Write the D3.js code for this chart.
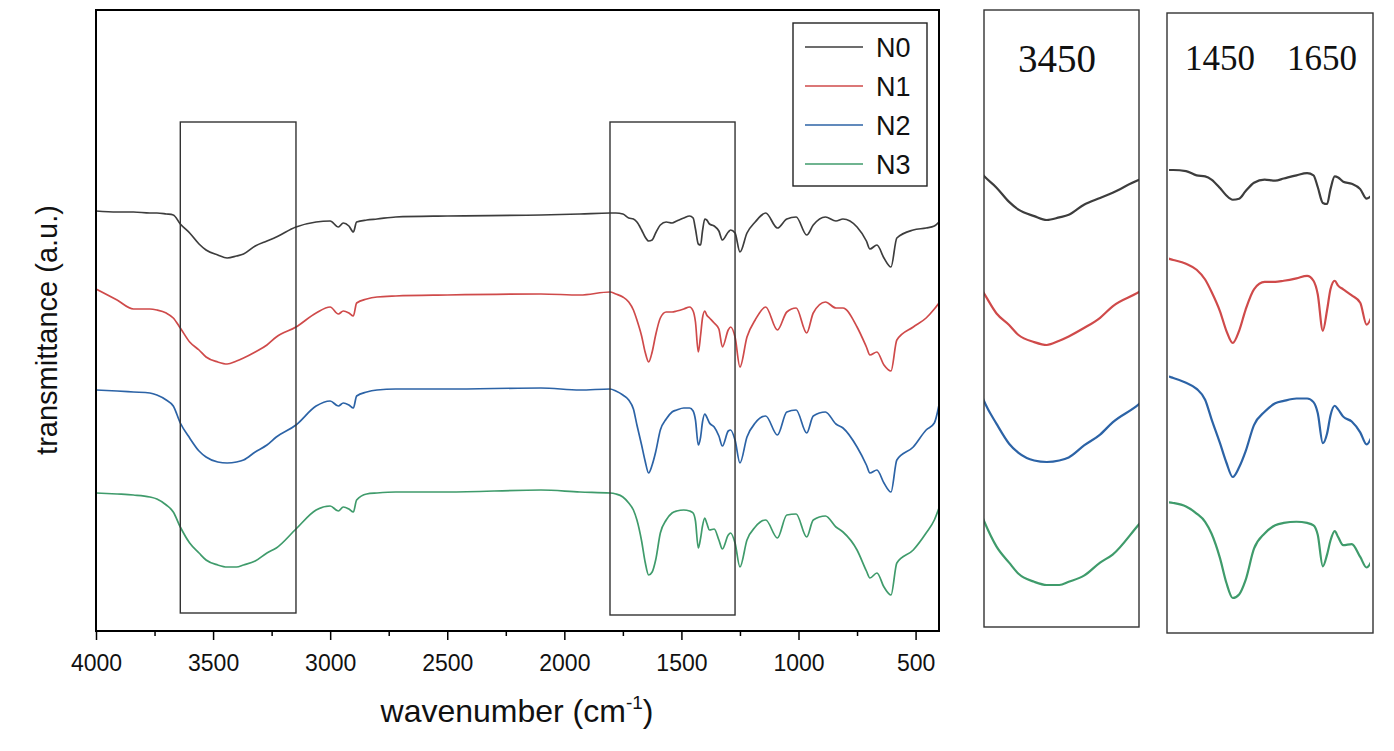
<!DOCTYPE html>
<html lang="en">
<head>
<meta charset="utf-8">
<title>FTIR spectra N0-N3</title>
<script src="https://d3js.org/d3.v7.min.js"></script>
<style>
  body { margin: 0; background: #fff; }
  svg { display: block; background: #fff; }
  .tick text { font-family: "Liberation Sans", Arial, sans-serif; font-size: 23px; fill: #111; }
  .tick line { stroke: #000; stroke-width: 1.5px; }
  .axis-title { font-family: "Liberation Sans", Arial, sans-serif; fill: #111; }
  .legend text { font-family: "Liberation Sans", Arial, sans-serif; font-size: 27px; fill: #111; }
  .inset-label { font-family: "Liberation Serif", "Times New Roman", serif; fill: #111; }
</style>
</head>
<body>
<svg width="1394" height="751"></svg>
<script>
// wavenumber grid (cm-1) shared by all four spectra
const wavenumbers = [4000, 3910, 3840, 3770, 3740, 3700, 3670, 3640, 3600, 3560,
  3530, 3480, 3440, 3400, 3370, 3320, 3270, 3230, 3146, 3060,
  3000, 2965, 2944, 2920, 2901, 2887, 2844, 2800, 2720, 2500,
  2100, 1933,
  1805, 1780, 1750, 1725, 1705, 1690, 1670, 1655, 1640, 1625,
  1610, 1590, 1565, 1540, 1520, 1490, 1465, 1450, 1440, 1428,
  1418, 1410, 1400, 1392, 1380, 1360, 1340, 1325, 1300, 1290,
  1271,
  1250, 1220, 1185, 1140, 1090, 1050, 1010, 965, 937, 885,
  840, 810, 750, 710, 695, 665, 635, 605, 580, 510,
  455, 420, 400];

// transmittance, arbitrary units (already offset for stacking)
const n0 = [420, 419, 419, 418, 418, 417, 416, 407, 398, 387,
  381, 376, 373, 375, 377, 385, 390, 394, 404, 409,
  410, 404, 408, 405, 399, 409, 411, 412, 414, 415,
  416, 417,
  418, 418, 417, 413, 412, 409, 401, 394, 390, 391,
  398, 406, 409, 408, 410, 413, 415, 413, 402, 387,
  386, 400, 412, 411, 407, 405, 400, 391, 399, 401,
  398,
  379, 398, 409, 418, 403, 412, 414, 396, 406, 414,
  410, 412, 404, 390, 382, 386, 373, 364, 393, 401,
  403, 405, 409];
const n1 = [342, 331, 322, 322, 321, 318, 313, 303, 289, 281,
  274, 269, 267, 270, 273, 279, 286, 294, 304, 318,
  324, 317, 320, 318, 315, 328, 332, 334, 335, 336,
  337, 336,
  339, 337, 334, 329, 321, 311, 295, 279, 269, 279,
  296, 313, 319, 319, 320, 322, 324, 320, 309, 279,
  296, 313, 320, 316, 313, 308, 302, 284, 301, 304,
  294,
  264, 294, 311, 324, 301, 319, 323, 298, 318, 329,
  323, 323, 304, 284, 276, 279, 266, 260, 291, 304,
  313, 322, 328];
const n2 = [241, 240, 239, 238, 236, 231, 225, 208, 193, 180,
  174, 169, 168, 169, 171, 179, 186, 194, 206, 225,
  230, 225, 228, 226, 223, 235, 239, 241, 242, 242,
  243, 241,
  242, 240, 236, 231, 222, 206, 186, 170, 158, 166,
  179, 201, 212, 219, 221, 223, 223, 220, 211, 186,
  194, 209, 217, 214, 208, 204, 195, 185, 200, 201,
  191,
  168, 194, 208, 215, 196, 219, 221, 198, 215, 219,
  207, 203, 184, 166, 158, 161, 148, 139, 171, 184,
  201, 208, 226];
const n3 = [138, 137, 136, 134, 132, 126, 119, 104, 88, 78,
  71, 66, 64, 64, 66, 70, 78, 83, 102, 121,
  125, 120, 124, 122, 119, 131, 137, 138, 139, 139,
  141, 139,
  138, 137, 134, 128, 121, 111, 90, 69, 56, 59,
  71, 98, 111, 118, 120, 121, 120, 118, 110, 83,
  93, 105, 113, 108, 101, 102, 91, 82, 96, 98,
  88,
  64, 91, 104, 111, 93, 116, 117, 94, 111, 115,
  104, 99, 81, 60, 53, 58, 44, 36, 68, 81,
  98, 111, 123];

const seriesNames = ["N0", "N1", "N2", "N3"];
const seriesValues = [n0, n1, n2, n3];
const seriesColors = ["#3d3d3d", "#cf4a4a", "#2c63a6", "#3f9b6b"];

const xTicks = [4000, 3500, 3000, 2500, 2000, 1500, 1000, 500];
const xMinorTicks = [3750, 3250, 2750, 2250, 1750, 1250, 750];

// highlighted regions on main plot: [from, to] wavenumber, top/bottom in a.u.
const boxRanges = [[3640, 3146], [1805, 1271]];
const boxTops = [509, 509];
const boxBottoms = [18, 16];

// zoomed windows shown on the right
const insetWindows = [[3640, 3146], [1790, 1317]];
const insetLabels = [["3450"], ["1450", "1650"]];

const svg = d3.select("svg");

//main plot area
const M = {left: 96, right: 939, top: 10, bottom: 631};
const x = d3.scaleLinear().domain([4000, 400]).range([M.left, M.right]);
const y = d3.scaleLinear().domain([0, 620]).range([M.bottom, M.top + 1]);

svg.append("clipPath").attr("id", "mainclip")
  .append("rect").attr("x", M.left).attr("y", M.top)
  .attr("width", M.right - M.left).attr("height", M.bottom - M.top);

const line = d3.line()
  .x((d, i) => x(wavenumbers[i]))
  .y(d => y(d))
  .curve(d3.curveMonotoneX);

svg.append("g").attr("clip-path", "url(#mainclip)")
  .selectAll("path")
  .data(seriesValues)
  .join("path")
  .attr("d", d => line(d))
  .attr("fill", "none")
  .attr("stroke", (d, i) => seriesColors[i])
  .attr("stroke-width", 1.7)
  .attr("stroke-linejoin", "round");

// rectangles marking the zoomed regions
svg.append("g").selectAll("rect")
  .data(boxRanges)
  .join("rect")
  .attr("x", d => x(d[0]))
  .attr("y", (d, i) => y(boxTops[i]))
  .attr("width", d => x(d[1]) - x(d[0]))
  .attr("height", (d, i) => y(boxBottoms[i]) - y(boxTops[i]))
  .attr("fill", "none")
  .attr("stroke", "#333")
  .attr("stroke-width", 1.4);

// x axis
const xAxis = d3.axisBottom(x).tickValues(xTicks).tickSize(9).tickPadding(15)
  .tickFormat(d3.format("d"));
const gx = svg.append("g").attr("transform", `translate(0,${M.bottom})`).call(xAxis);
gx.select(".domain").remove();

const xMinor = d3.axisBottom(x).tickValues(xMinorTicks).tickSize(5).tickFormat("");
const gxm = svg.append("g").attr("transform", `translate(0,${M.bottom})`).call(xMinor);
gxm.select(".domain").remove();

// frame
svg.append("rect")
  .attr("x", M.left).attr("y", M.top)
  .attr("width", M.right - M.left).attr("height", M.bottom - M.top)
  .attr("fill", "none").attr("stroke", "#000").attr("stroke-width", 2);

// axis titles
const xt = svg.append("text").attr("class", "axis-title")
  .attr("x", 517).attr("y", 722)
  .attr("text-anchor", "middle")
  .style("font-size", "32px");
xt.append("tspan").text("wavenumber (cm");
xt.append("tspan").attr("dy", -13).style("font-size", "19px").text("-1");
xt.append("tspan").attr("dy", 13).text(")");

svg.append("text").attr("class", "axis-title")
  .attr("transform", "translate(57,330) rotate(-90)")
  .attr("text-anchor", "middle")
  .style("font-size", "29px")
  .text("transmittance (a.u.)");

// legend
const legend = svg.append("g").attr("class", "legend");
legend.append("rect")
  .attr("x", 793).attr("y", 23).attr("width", 134).attr("height", 163)
  .attr("fill", "#fff").attr("stroke", "#222").attr("stroke-width", 1.4);
const li = legend.selectAll("g.item")
  .data(seriesNames)
  .join("g").attr("class", "item")
  .attr("transform", (d, i) => `translate(0,${47 + i * 39})`);
li.append("line")
  .attr("x1", 805).attr("x2", 863)
  .attr("stroke", (d, i) => seriesColors[i]).attr("stroke-width", 1.6);
li.append("text").attr("x", 876).attr("y", 10).text(d => d);

// insets
const insetBoxes = [
  {x0: 984, x1: 1139, top: 10, bottom: 627, px0: 984, px1: 1139},
  {x0: 1167, x1: 1373, top: 13, bottom: 633, px0: 1169, px1: 1370}
];
const insetBands = [
  [[176, 220], [292, 345], [401, 462], [521, 585]],
  [[170, 204], [260, 343], [378, 477], [503, 598]]
];
const insetLabelPos = [
  {xs: [1057], y: 72, size: 39},
  {xs: [1220, 1322], y: 70, size: 35}
];

insetWindows.forEach((win, k) => {
  const b = insetBoxes[k];
  const xi = d3.scaleLinear().domain(win).range([b.px0, b.px1]);
  const lo = Math.min(win[0], win[1]), hi = Math.max(win[0], win[1]);

  svg.append("clipPath").attr("id", "insetclip" + k)
    .append("rect").attr("x", b.px0).attr("y", b.top)
    .attr("width", b.px1 - b.px0).attr("height", b.bottom - b.top);

  const g = svg.append("g").attr("clip-path", `url(#insetclip${k})`);
  seriesValues.forEach((vals, s) => {
    const inWin = vals.filter((v, i) => wavenumbers[i] >= lo && wavenumbers[i] <= hi);
    const yi = d3.scaleLinear().domain(d3.extent(inWin))
      .range([insetBands[k][s][1], insetBands[k][s][0]]);
    const l = d3.line().x((d, i) => xi(wavenumbers[i])).y(d => yi(d))
      .curve(d3.curveMonotoneX);
    g.append("path")
      .attr("d", l(vals))
      .attr("fill", "none")
      .attr("stroke", seriesColors[s])
      .attr("stroke-width", 2.2)
      .attr("stroke-linejoin", "round");
  });

  svg.append("rect")
    .attr("x", b.x0).attr("y", b.top)
    .attr("width", b.x1 - b.x0).attr("height", b.bottom - b.top)
    .attr("fill", "none").attr("stroke", "#333").attr("stroke-width", 1.4);

  svg.append("g").selectAll("text")
    .data(insetLabels[k])
    .join("text")
    .attr("class", "inset-label")
    .attr("x", (d, i) => insetLabelPos[k].xs[i])
    .attr("y", insetLabelPos[k].y)
    .attr("text-anchor", "middle")
    .style("font-size", insetLabelPos[k].size + "px")
    .text(d => d);
});
</script>
</body>
</html>
